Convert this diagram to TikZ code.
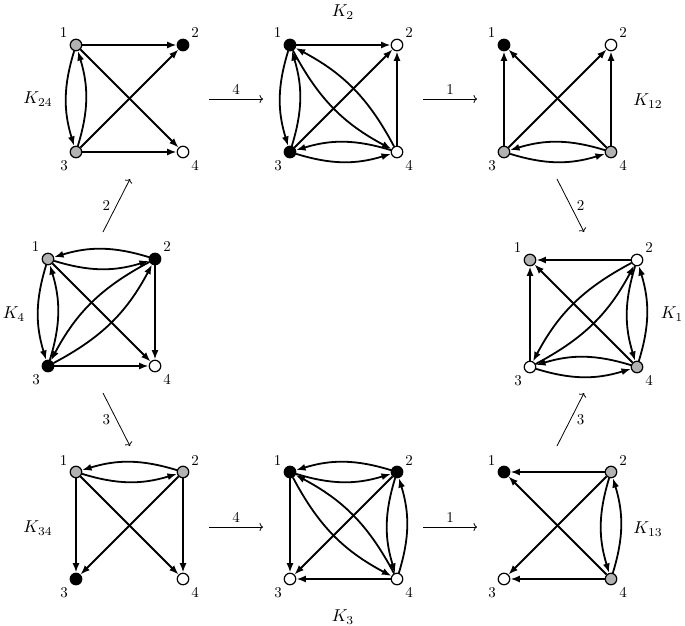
\documentclass[tikz,border=0pt]{standalone}
\usepackage{graphicx}
\usetikzlibrary{arrows.meta}
\colorlet{gr}{gray!60}
\newcommand{\dg}[1]{\scalebox{1.5}{#1}}
\newcommand{\kl}[1]{\scalebox{1.72}{$K_{#1}$}}
\tikzset{
 vtx/.style={circle, draw, line width=1.2pt, minimum size=11.5pt, inner sep=0pt},
 lbl/.style={inner sep=0pt},
 glbl/.style={inner sep=0pt},
 edg/.style={line width=1.8pt, -{Latex[length=9.5pt,width=7pt]}},
 bedg/.style={edg, bend right=17},
 conn/.style={line width=0.8pt, -{To[length=3.5pt,width=8pt]}},
 clbl/.style={inner sep=0pt}
}
\newcommand{\mkgraph}[7]{%
 \node[vtx,fill=#4] (#1-1) at (#2,#3) {};
 \node[vtx,fill=#5] (#1-2) at (#2+107,#3) {};
 \node[vtx,fill=#6] (#1-3) at (#2,#3+107) {};
 \node[vtx,fill=#7] (#1-4) at (#2+107,#3+107) {};
 \node[lbl] (#1-l1) at ([shift={(-12.5,-12)}]#1-1) {\dg{1}};
 \node[lbl] (#1-l2) at ([shift={(12,-12)}]#1-2) {\dg{2}};
 \node[lbl] (#1-l3) at ([shift={(-12,13.5)}]#1-3) {\dg{3}};
 \node[lbl] (#1-l4) at ([shift={(12,13.5)}]#1-4) {\dg{4}};
}
\begin{document}
\begin{tikzpicture}[x=1pt,y=-1pt]
\useasboundingbox (0,0) rectangle (685,626);

% K24
\mkgraph{A}{76}{45}{gr}{black}{gr}{white}
\draw[edg] (A-1) -- (A-2);
\draw[edg] (A-1) -- (A-4);
\draw[edg] (A-3) -- (A-2);
\draw[edg] (A-3) -- (A-4);
\draw[bedg] (A-1) to (A-3);
\draw[bedg] (A-3) to (A-1);
\node[glbl] (KA) at (38,99) {\kl{24}};

% K2
\mkgraph{B}{290}{45}{black}{white}{black}{white}
\draw[edg] (B-1) -- (B-2);
\draw[edg] (B-4) -- (B-2);
\draw[edg] (B-3) -- (B-2);
\draw[bedg] (B-1) to (B-3);
\draw[bedg] (B-3) to (B-1);
\draw[bedg] (B-1) to (B-4);
\draw[bedg] (B-4) to (B-1);
\draw[bedg] (B-3) to (B-4);
\draw[bedg] (B-4) to (B-3);
\node[glbl] (KB) at (343,12) {\kl{2}};

% K12
\mkgraph{C}{504}{45}{black}{white}{gr}{gr}
\draw[edg] (C-3) -- (C-1);
\draw[edg] (C-4) -- (C-2);
\draw[edg] (C-3) -- (C-2);
\draw[edg] (C-4) -- (C-1);
\draw[bedg] (C-3) to (C-4);
\draw[bedg] (C-4) to (C-3);
\node[glbl] (KC) at (648,101) {\kl{12}};

% K4
\mkgraph{D}{48}{259}{gr}{black}{black}{white}
\draw[bedg] (D-1) to (D-2);
\draw[bedg] (D-2) to (D-1);
\draw[bedg] (D-1) to (D-3);
\draw[bedg] (D-3) to (D-1);
\draw[bedg] (D-2) to (D-3);
\draw[bedg] (D-3) to (D-2);
\draw[edg] (D-1) -- (D-4);
\draw[edg] (D-2) -- (D-4);
\draw[edg] (D-3) -- (D-4);
\node[glbl] (KD) at (14,314) {\kl{4}};

% K1
\mkgraph{E}{530}{260}{gr}{white}{white}{gr}
\draw[edg] (E-2) -- (E-1);
\draw[edg] (E-3) -- (E-1);
\draw[edg] (E-4) -- (E-1);
\draw[bedg] (E-2) to (E-3);
\draw[bedg] (E-3) to (E-2);
\draw[bedg] (E-2) to (E-4);
\draw[bedg] (E-4) to (E-2);
\draw[bedg] (E-3) to (E-4);
\draw[bedg] (E-4) to (E-3);
\node[glbl] (KE) at (672,314) {\kl{1}};

% K34
\mkgraph{F}{76}{472}{gr}{gr}{black}{white}
\draw[bedg] (F-1) to (F-2);
\draw[bedg] (F-2) to (F-1);
\draw[edg] (F-1) -- (F-3);
\draw[edg] (F-2) -- (F-4);
\draw[edg] (F-1) -- (F-4);
\draw[edg] (F-2) -- (F-3);
\node[glbl] (KF) at (38,528) {\kl{34}};

% K3
\mkgraph{G}{290}{472}{black}{black}{white}{white}
\draw[bedg] (G-1) to (G-2);
\draw[bedg] (G-2) to (G-1);
\draw[edg] (G-1) -- (G-3);
\draw[edg] (G-4) -- (G-3);
\draw[edg] (G-2) -- (G-3);
\draw[bedg] (G-1) to (G-4);
\draw[bedg] (G-4) to (G-1);
\draw[bedg] (G-2) to (G-4);
\draw[bedg] (G-4) to (G-2);
\node[glbl] (KG) at (343,617) {\kl{3}};

% K13
\mkgraph{H}{504}{472}{black}{gr}{white}{gr}
\draw[edg] (H-2) -- (H-1);
\draw[edg] (H-4) -- (H-3);
\draw[edg] (H-2) -- (H-3);
\draw[edg] (H-4) -- (H-1);
\draw[bedg] (H-2) to (H-4);
\draw[bedg] (H-4) to (H-2);
\node[glbl] (KH) at (648,529) {\kl{13}};

% connectors between graphs
\coordinate (c1s) at (209,99);  \coordinate (c1e) at (263,99);
\coordinate (c2s) at (423,99);  \coordinate (c2e) at (477,99);
\coordinate (c3s) at (209,527); \coordinate (c3e) at (263,527);
\coordinate (c4s) at (423,527); \coordinate (c4e) at (477,527);
\coordinate (c5s) at (103,232); \coordinate (c5e) at (130,179);
\coordinate (c6s) at (103,393); \coordinate (c6e) at (130,446);
\coordinate (c7s) at (557,179); \coordinate (c7e) at (584,232);
\coordinate (c8s) at (557,446); \coordinate (c8e) at (584,393);
\draw[conn] (c1s) -- node[clbl, above=4pt] {\dg{4}} (c1e);
\draw[conn] (c2s) -- node[clbl, above=4pt] {\dg{1}} (c2e);
\draw[conn] (c3s) -- node[clbl, above=4pt] {\dg{4}} (c3e);
\draw[conn] (c4s) -- node[clbl, above=4pt] {\dg{1}} (c4e);
\draw[conn] (c5s) -- node[clbl, left=6pt] {\dg{2}} (c5e);
\draw[conn] (c6s) -- node[clbl, left=6pt] {\dg{3}} (c6e);
\draw[conn] (c7s) -- node[clbl, right=6pt] {\dg{2}} (c7e);
\draw[conn] (c8s) -- node[clbl, right=6pt] {\dg{3}} (c8e);
\end{tikzpicture}
\end{document}
